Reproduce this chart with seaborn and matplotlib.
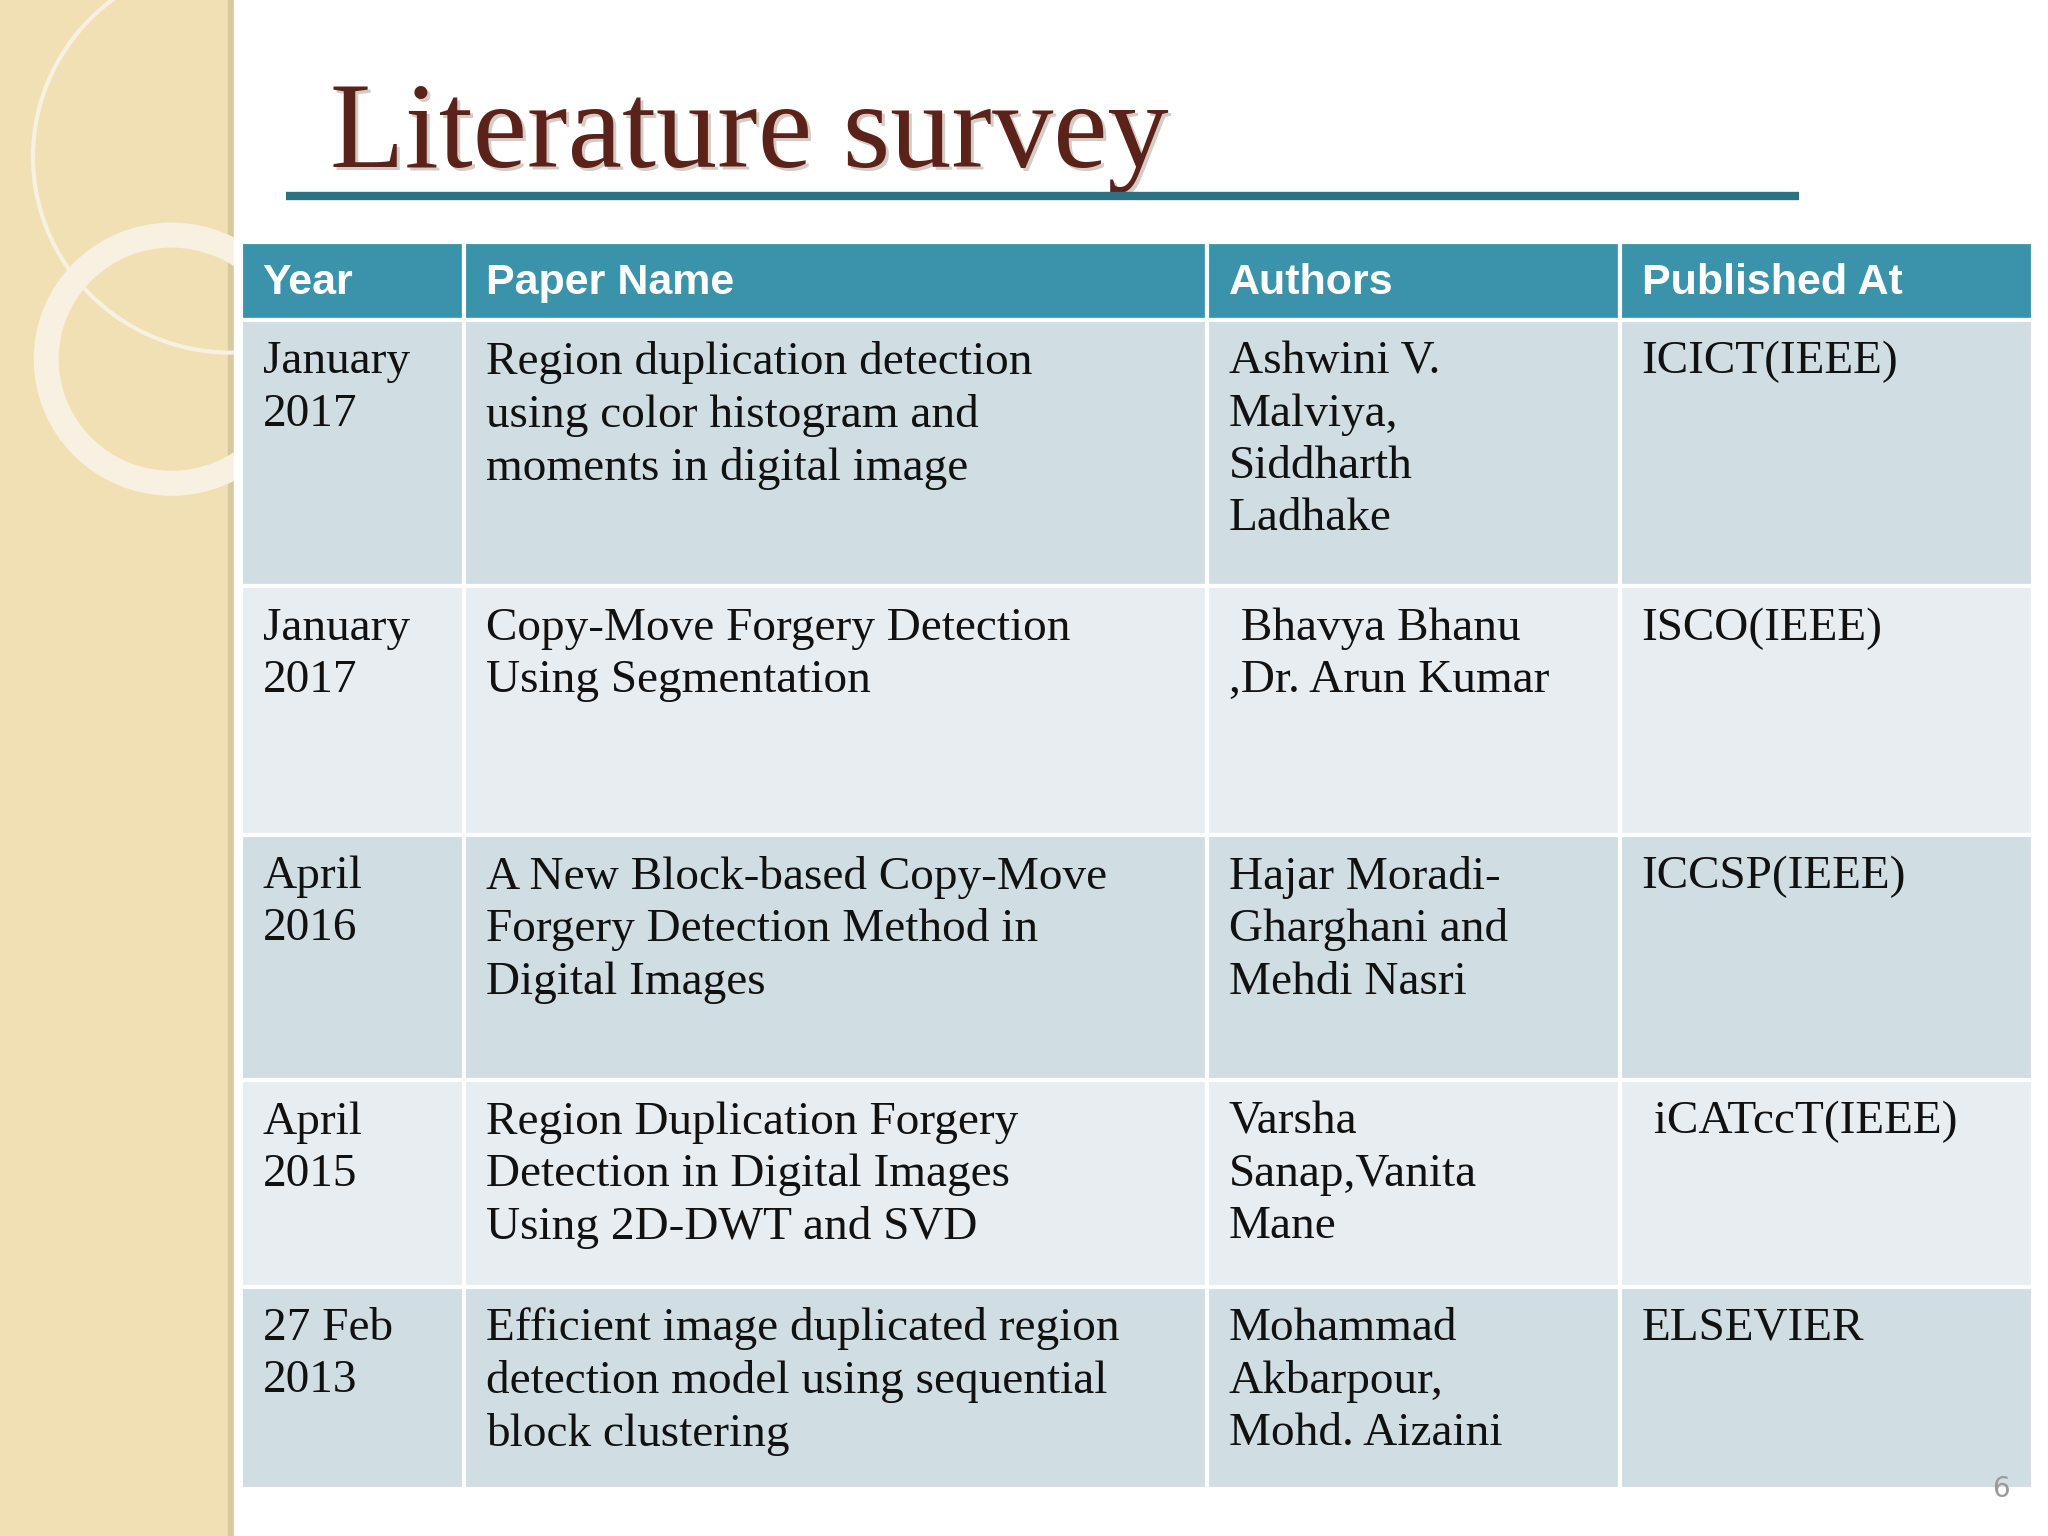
import matplotlib
matplotlib.use("Agg")
import matplotlib.pyplot as plt
import matplotlib.patches as mpatches
import seaborn as sns

# -------------------------------
# Table data
# -------------------------------
title = "Literature survey"
headers = ["Year", "Paper Name", "Authors", "Published At"]
years = ["January\n2017", "January\n2017", "April\n2016", "April\n2015", "27 Feb\n2013"]
papers = [
    "Region duplication detection\nusing color histogram and\nmoments in digital image",
    "Copy-Move Forgery Detection\nUsing Segmentation",
    "A New Block-based Copy-Move\nForgery Detection Method in\nDigital Images",
    "Region Duplication Forgery\nDetection in Digital Images\nUsing 2D-DWT and SVD",
    "Efficient image duplicated region\ndetection model using sequential\nblock clustering",
]
authors = [
    "Ashwini V.\nMalviya,\nSiddharth\nLadhake",
    " Bhavya Bhanu\n,Dr. Arun Kumar",
    "Hajar Moradi-\nGharghani and\nMehdi Nasri",
    "Varsha\nSanap,Vanita\nMane",
    "Mohammad\nAkbarpour,\nMohd. Aizaini",
]
published = ["ICICT(IEEE)", "ISCO(IEEE)", "ICCSP(IEEE)", " iCATccT(IEEE)", "ELSEVIER"]
page_number = "6"

# -------------------------------
# Layout (reference pixel grid 1552 x 1176)
# -------------------------------
col_edges = [183, 352, 915, 1228, 1541]
row_edges = [185, 245, 449, 639, 827, 985, 1140]
header_color = "#3a93ab"
row_colors = ["#d0dde3", "#e8edf1"]

sns.set_theme(style="white")
fig = plt.figure(figsize=(20.48, 15.36), dpi=100)
ax = fig.add_axes([0, 0, 1, 1])
ax.set_xlim(0, 1552)
ax.set_ylim(1176, 0)
ax.axis("off")

# background
ax.add_patch(mpatches.Rectangle((0, 0), 1552, 1176, color="white", zorder=0))
ax.add_patch(mpatches.Rectangle((0, 0), 173, 1176, color="#f1e0b4", zorder=1))
ax.add_patch(mpatches.Rectangle((173, 0), 4, 1176, color="#d9c9a0", zorder=1))
for cx, cy, r, lw in [(175, 120, 150, 3), (130, 275, 95, 18)]:
    ax.add_patch(mpatches.Circle((cx, cy), r, fill=False, ec="#f8f1e2", lw=lw, zorder=2))
ax.add_patch(mpatches.Rectangle((177, 0), 1375, 1176, color="white", zorder=3))

# title with a soft shadow
shadow = ax.text(252, 130, title, fontsize=88, family="Liberation Serif", color="#d6ccc6",
                 ha="left", va="baseline", zorder=4)
ax.text(250, 128, title, fontsize=88, family="Liberation Serif", color="#5b2219",
        ha="left", va="baseline", zorder=5)
ax.plot([217, 1363], [150, 150], color="#2d7283", lw=6, solid_capstyle="butt", zorder=5)

# header row
for j, h in enumerate(headers):
    x0, x1 = col_edges[j], col_edges[j + 1]
    ax.add_patch(mpatches.Rectangle((x0, row_edges[0]), x1 - x0, row_edges[1] - row_edges[0],
                                    fc=header_color, ec="white", lw=3, zorder=5))
    ax.text(x0 + 16, (row_edges[0] + row_edges[1]) / 2 + 2, h, fontsize=31, weight="bold",
            family="Liberation Sans", color="white", ha="left", va="center", zorder=6)

# body rows
columns = [years, papers, authors, published]
for i in range(len(years)):
    y0, y1 = row_edges[i + 1], row_edges[i + 2]
    for j, col in enumerate(columns):
        x0, x1 = col_edges[j], col_edges[j + 1]
        ax.add_patch(mpatches.Rectangle((x0, y0), x1 - x0, y1 - y0,
                                        fc=row_colors[i % 2], ec="white", lw=3, zorder=5))
        ax.text(x0 + 16, y0 + 16, col[i], fontsize=34, family="Liberation Serif",
                color="#111111", ha="left", va="top", linespacing=1.3, zorder=6)

ax.text(1516, 1140, page_number, fontsize=20, color="#9a9a9a", ha="center", va="center", zorder=6)

fig.savefig("out.png", dpi=100)
